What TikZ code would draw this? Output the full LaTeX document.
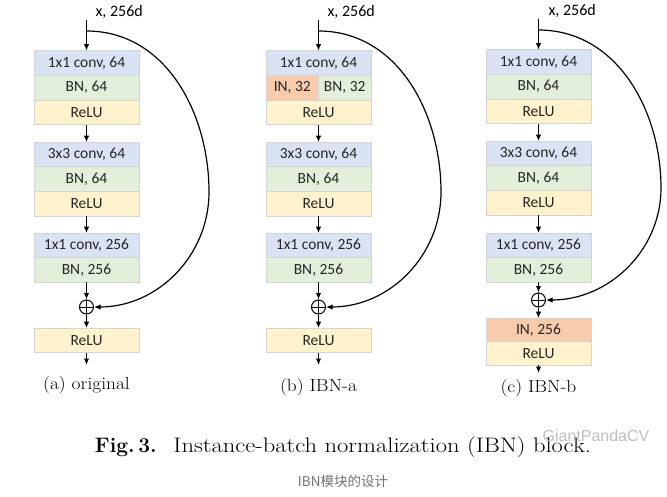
\documentclass[tikz,border=0pt]{standalone}
\usepackage{fontspec}
\newfontfamily\carlito{Carlito}
\newfontfamily\wmfont{Liberation Sans}
\newfontfamily\cjk{Noto Sans CJK SC}
\usetikzlibrary{arrows.meta, positioning}
\definecolor{ConvBlue}{HTML}{DAE3F3}
\definecolor{BNGreen}{HTML}{E2EFDA}
\definecolor{ReluYellow}{HTML}{FFF2CC}
\definecolor{INOrange}{HTML}{F8CBAD}
\definecolor{EdgeGrey}{HTML}{D4D4D4}

\begin{document}
\begin{tikzpicture}[x=1pt, y=-1pt, >={Latex[length=6.5pt,width=5.5pt]},
  layer/.style={draw=EdgeGrey, line width=0.8pt, outer sep=0pt, inner sep=0pt,
    minimum width=105pt, minimum height=24.7pt, text=black!85,
    font=\carlito\fontsize{15.5}{15.5}\selectfont},
  convlayer/.style={layer, fill=ConvBlue},
  bnlayer/.style={layer, fill=BNGreen},
  relulayer/.style={layer, fill=ReluYellow},
  inlayer/.style={layer, fill=INOrange},
  halfw/.style={minimum width=52.5pt},
  sumnode/.style={circle, draw, line width=1pt, minimum size=14pt, inner sep=0pt,
    path picture={\draw[line width=1pt]
      (path picture bounding box.north) -- (path picture bounding box.south)
      (path picture bounding box.west) -- (path picture bounding box.east);}},
  inlabel/.style={anchor=west, font=\carlito\fontsize{16}{16}\selectfont},
  subcap/.style={font=\fontsize{17.5}{20}\selectfont},
  flow/.style={->, line width=1.2pt}]
  % canvas, same size as the reference
  \fill[white] (0,0) rectangle (667,496);
  \useasboundingbox (0,0) rectangle (667,496);

  % (a) original
  \coordinate (ina) at (86.5,20);
  \coordinate (forka) at (86.5,31);
  \node[inlabel] (xa) at (92,12) {x, 256d};
  \node[convlayer] (a1) at (86.5,63) {1x1 conv, 64};
  \node[bnlayer, below=0pt of a1] (a2) {BN, 64};
  \node[relulayer, below=0pt of a2] (a3) {ReLU};
  \node[convlayer] (a4) at (86.5,154.4) {3x3 conv, 64};
  \node[bnlayer, below=0pt of a4] (a5) {BN, 64};
  \node[relulayer, below=0pt of a5] (a6) {ReLU};
  \node[convlayer] (a7) at (86.5,245.4) {1x1 conv, 256};
  \node[bnlayer, below=0pt of a7] (a8) {BN, 256};
  \node[sumnode] (suma) at (86.5,307) {};
  \node[relulayer] (a9) at (86.5,340.4) {ReLU};
  \coordinate (outa) at (86.5,365);
  \coordinate (benda) at (209,192);
  \node[subcap] (capa) at (86.5,385) {\scalebox{1.11}[1]{(a) original}};
  \draw[flow] (ina) -- (a1);
  \draw[flow] (a3) -- (a4);
  \draw[flow] (a6) -- (a7);
  \draw[flow] (a8) -- (suma);
  \draw[flow] (suma) -- (a9);
  \draw[flow] (a9) -- (outa);
  \draw[flow] (forka) to[out=0, in=90] (benda) to[out=-90, in=0] (suma.east);

  % (b) IBN-a
  \coordinate (inb) at (318.5,20);
  \coordinate (forkb) at (318.5,31);
  \node[inlabel] (xb) at (324,12) {x, 256d};
  \node[convlayer] (b1) at (318.5,63) {1x1 conv, 64};
  \node[inlayer, halfw, anchor=north west] (b2) at (b1.south west) {IN, 32};
  \node[bnlayer, halfw, anchor=north east] (b2r) at (b1.south east) {BN, 32};
  \node[relulayer, anchor=north west] (b3) at (b2.south west) {ReLU};
  \node[convlayer] (b4) at (318.5,154.4) {3x3 conv, 64};
  \node[bnlayer, below=0pt of b4] (b5) {BN, 64};
  \node[relulayer, below=0pt of b5] (b6) {ReLU};
  \node[convlayer] (b7) at (318.5,245.4) {1x1 conv, 256};
  \node[bnlayer, below=0pt of b7] (b8) {BN, 256};
  \node[sumnode] (sumb) at (318.5,307) {};
  \node[relulayer] (b9) at (318.5,340.4) {ReLU};
  \coordinate (outb) at (318.5,365);
  \coordinate (bendb) at (441,192);
  \node[subcap] (capb) at (318.5,387) {\scalebox{1.11}[1]{(b) IBN-a}};
  \draw[flow] (inb) -- (b1);
  \draw[flow] (b3) -- (b4);
  \draw[flow] (b6) -- (b7);
  \draw[flow] (b8) -- (sumb);
  \draw[flow] (sumb) -- (b9);
  \draw[flow] (b9) -- (outb);
  \draw[flow] (forkb) to[out=0, in=90] (bendb) to[out=-90, in=0] (sumb.east);

  % (c) IBN-b
  \coordinate (inc) at (538.5,19);
  \coordinate (forkc) at (538.5,30);
  \node[inlabel] (xc) at (545,11) {x, 256d};
  \node[convlayer] (c1) at (538.5,62) {1x1 conv, 64};
  \node[bnlayer, below=0pt of c1] (c2) {BN, 64};
  \node[relulayer, below=0pt of c2] (c3) {ReLU};
  \node[convlayer] (c4) at (538.5,153.4) {3x3 conv, 64};
  \node[bnlayer, below=0pt of c4] (c5) {BN, 64};
  \node[relulayer, below=0pt of c5] (c6) {ReLU};
  \node[convlayer] (c7) at (538.5,245.4) {1x1 conv, 256};
  \node[bnlayer, below=0pt of c7] (c8) {BN, 256};
  \node[sumnode] (sumc) at (538.5,300) {};
  \node[inlayer, minimum height=23.5pt] (c9) at (538.5,329.8) {IN, 256};
  \node[relulayer, minimum height=23.5pt, below=0pt of c9] (c10) {ReLU};
  \coordinate (outc) at (538.5,373);
  \coordinate (bendc) at (661,188);
  \node[subcap] (capc) at (538.5,388) {\scalebox{1.11}[1]{(c) IBN-b}};
  \draw[flow] (inc) -- (c1);
  \draw[flow] (c3) -- (c4);
  \draw[flow] (c6) -- (c7);
  \draw[flow] (c8) -- (sumc);
  \draw[flow] (sumc) -- (c9);
  \draw[flow] (c10) -- (outc);
  \draw[flow] (forkc) to[out=0, in=90] (bendc) to[out=-90, in=0] (sumc.east);

  % figure caption and page notes
  \node[font=\fontsize{21}{24}\selectfont] (figcap) at (343,447)
    {\textbf{Fig.\,3.}\hspace{0.8em}\scalebox{1.17}[1]{Instance-batch normalization (IBN) block.}};
  \node[text=black!25, font=\wmfont\fontsize{16}{16}\selectfont] (mark) at (596,436) {GiantPandaCV};
  \node[text=black!55, font=\cjk\fontsize{13.5}{13.5}\selectfont] (note) at (343,481) {IBN模块的设计};
\end{tikzpicture}
\end{document}
